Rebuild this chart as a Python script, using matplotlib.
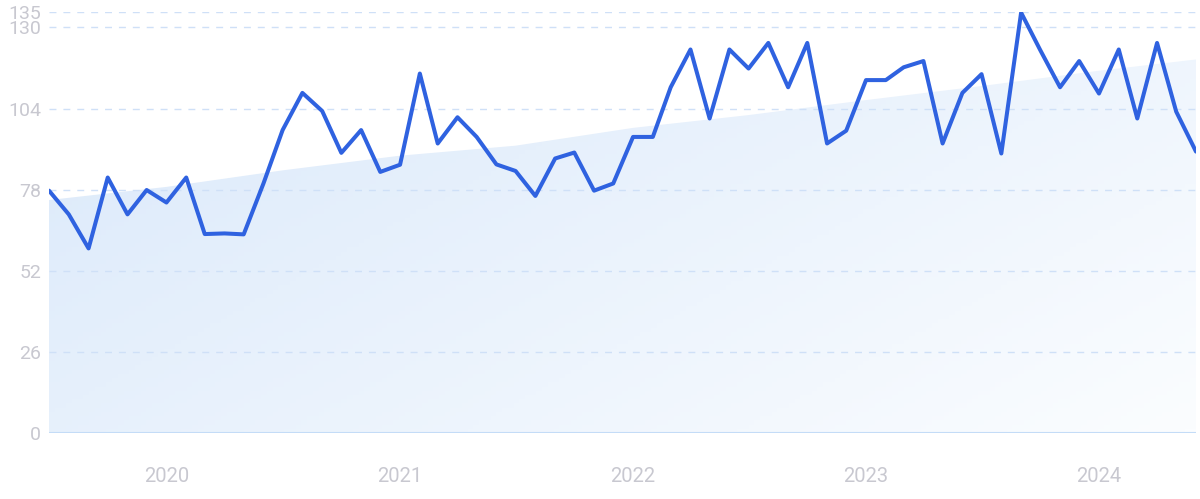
import matplotlib
matplotlib.use("Agg")
import matplotlib.pyplot as plt
import matplotlib.transforms as mtrans
import numpy as np
import pandas as pd
from matplotlib.colors import LinearSegmentedColormap

# ---- data ----
months = pd.date_range("2019-07-01", "2024-06-01", freq="MS")
values = [77.7, 70.1, 59.2, 81.9, 70.1, 77.9, 73.9, 81.9, 63.8, 64.0,
          63.7, 80.0, 97.1, 109.0, 103.2, 89.8, 97.1, 83.7, 86.0, 115.2,
          92.8, 101.2, 94.9, 86.1, 84.0, 76.0, 88.0, 89.9, 77.7, 80.0,
          94.9, 94.9, 110.8, 122.9, 100.8, 122.9, 116.8, 125.0, 110.8, 125.0,
          92.8, 96.9, 113.1, 113.1, 117.2, 119.2, 92.8, 109.0, 115.0, 89.6,
          134.7, 122.7, 110.8, 119.2, 108.8, 122.9, 100.8, 125.0, 103.0, 90.2]
trend_dates = pd.to_datetime(["2019-07-01", "2020-01-01", "2020-07-01", "2021-01-01",
                              "2021-07-01", "2022-01-01", "2022-07-01", "2023-01-01",
                              "2023-07-01", "2024-01-01", "2024-06-01"])
trend_values = [74.7, 78.9, 84.2, 88.9, 92.1, 97.8, 101.9, 106.7, 111.2, 116.1, 119.7]
y_ticks = [0, 26, 52, 78, 104, 130, 135]
year_labels = ["2020", "2021", "2022", "2023", "2024"]

# ---- figure ----
W, H = 1200, 499
fig = plt.figure(figsize=(W / 100, H / 100), dpi=100)
left, right, top, bottom = 49, 1196, 11.7, 433.3
ax = fig.add_axes([left / W, 1 - bottom / H, (right - left) / W, (bottom - top) / H])

xmin, xmax = months[0], months[-1]
ax.set_xlim(xmin, xmax)
ax.set_ylim(0, 135)

# gradient fill under trend
cmap = LinearSegmentedColormap.from_list("g", ["#d9e8fa", "#fbfdff"])
gx = np.linspace(0, 1, 200)
gy = np.linspace(0, 1, 100)
GX, GY = np.meshgrid(gx, gy)
grad = 0.6 * GX + 0.4 * (1 - GY)
grad = grad / grad.max()
poly = ax.fill_between(trend_dates, trend_values, 0, color="none", lw=0)
xn = matplotlib.dates.date2num
im = ax.imshow(grad, cmap=cmap, aspect="auto", origin="lower",
               extent=[xn(xmin), xn(xmax), 0, 135], zorder=1)
im.set_clip_path(poly.get_paths()[0], transform=ax.transData)

# grid lines
for t in y_ticks[1:]:
    ax.axhline(t, color="#cfe0f7", lw=1.0, ls=(0, (5, 5)), zorder=2)
ax.axhline(0, color="#c4dcf7", lw=1.5, zorder=2)

# main line
ax.plot(months, values, color="#2f62e0", lw=2.9, zorder=4,
        solid_joinstyle="round", solid_capstyle="round")

for s in ax.spines.values():
    s.set_visible(False)
ax.set_xticks([])
ax.set_yticks([])

font = ["Roboto", "DejaVu Sans"]
trans_y = mtrans.blended_transform_factory(fig.transFigure, ax.transData)
for t in y_ticks:
    ax.text(41 / W, t, str(t), transform=trans_y, ha="right", va="center_baseline",
            fontsize=14, color="#c8c8d0", family=font)

trans_x = mtrans.blended_transform_factory(ax.transData, fig.transFigure)
for lab in year_labels:
    ax.text(pd.Timestamp(f"{lab}-01-01"), 1 - 476 / H, lab, transform=trans_x,
            ha="center", va="center", fontsize=14.5, color="#c8c8d0", family=font)

fig.savefig("out.png", dpi=100)
